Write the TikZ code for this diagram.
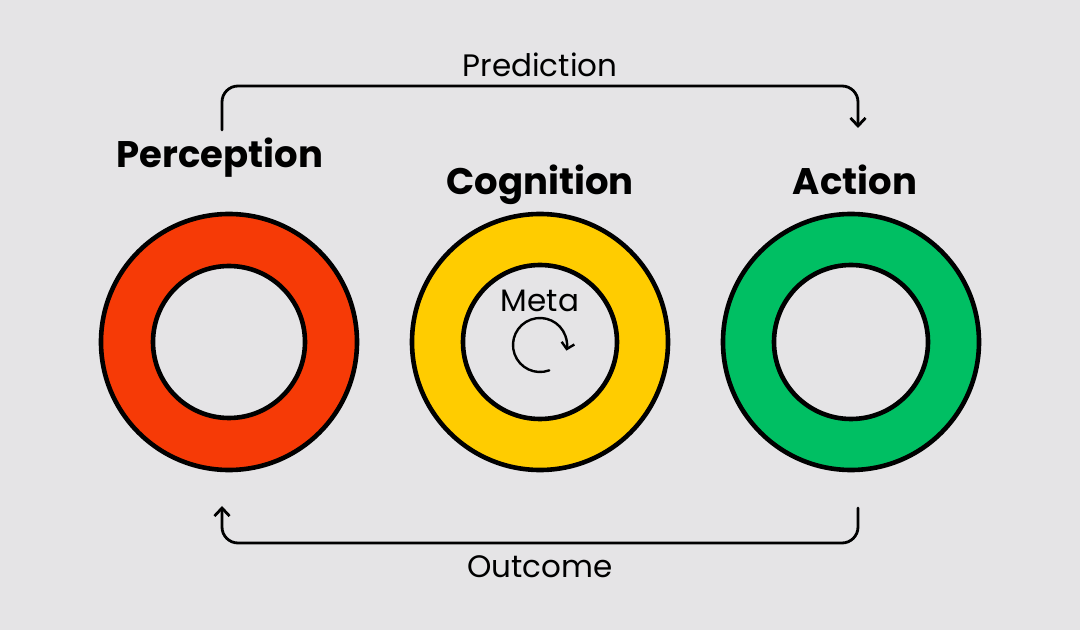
\documentclass[tikz,border=0pt]{standalone}
\usepackage{fontspec}
\setmainfont{Poppins}
\usetikzlibrary{arrows.meta}
\definecolor{paper}{RGB}{229,228,230}
\definecolor{percred}{RGB}{246,58,6}
\definecolor{cogyellow}{RGB}{255,204,0}
\definecolor{actgreen}{RGB}{0,191,99}
\tikzset{
  ring/.style={line width=4.6, even odd rule},
  title/.style={font=\fontsize{37}{40}\selectfont\bfseries, anchor=base},
  tag/.style={font=\fontsize{31}{34}\selectfont, anchor=base},
  flow/.style={line width=2.8, rounded corners=16, line cap=round, -{Straight Barb[length=8,width=15,line width=2.8]}},
}
\begin{document}
\begin{tikzpicture}[x=1pt, y=1pt, line join=round]
  \fill[paper] (0,0) rectangle (1080,630);
  \useasboundingbox (0,0) rectangle (1080,630);
  % ring centres
  \coordinate (perc) at (229,288);
  \coordinate (cog) at (540,288);
  \coordinate (act) at (851,288);
  \draw[ring, fill=percred] (perc) circle (128) (perc) circle (76);
  \draw[ring, fill=cogyellow] (cog) circle (128) (cog) circle (77);
  \draw[ring, fill=actgreen] (act) circle (128) (act) circle (77);
  % titles
  \node[title] (perclabel) at (220,462) {Perception};
  \node[title] (coglabel) at (540,435) {Cognition};
  \node[title] (actlabel) at (855,435) {Action};
  % feedback arrows
  \coordinate (predstart) at (222,500);
  \coordinate (predtop) at (540,544);
  \coordinate (predend) at (858,502);
  \coordinate (outstart) at (858,122);
  \coordinate (outbot) at (540,87);
  \coordinate (outend) at (222,124);
  \draw[flow] (predstart) |- (predtop) -| (predend);
  \draw[flow] (outstart) |- (outbot) -| (outend);
  \node[tag] (pred) at (540,553) {Prediction};
  \node[tag] (outc) at (540,53) {Outcome};
  % meta loop
  \node[tag] (meta) at (540,318) {Meta};
  \draw[line width=2.4, line cap=round, -{Straight Barb[length=6,width=13,line width=2.4]}]
    ([shift={(290:27)}]540,285) arc[start angle=290, end angle=-12, radius=27];
\end{tikzpicture}
\end{document}
